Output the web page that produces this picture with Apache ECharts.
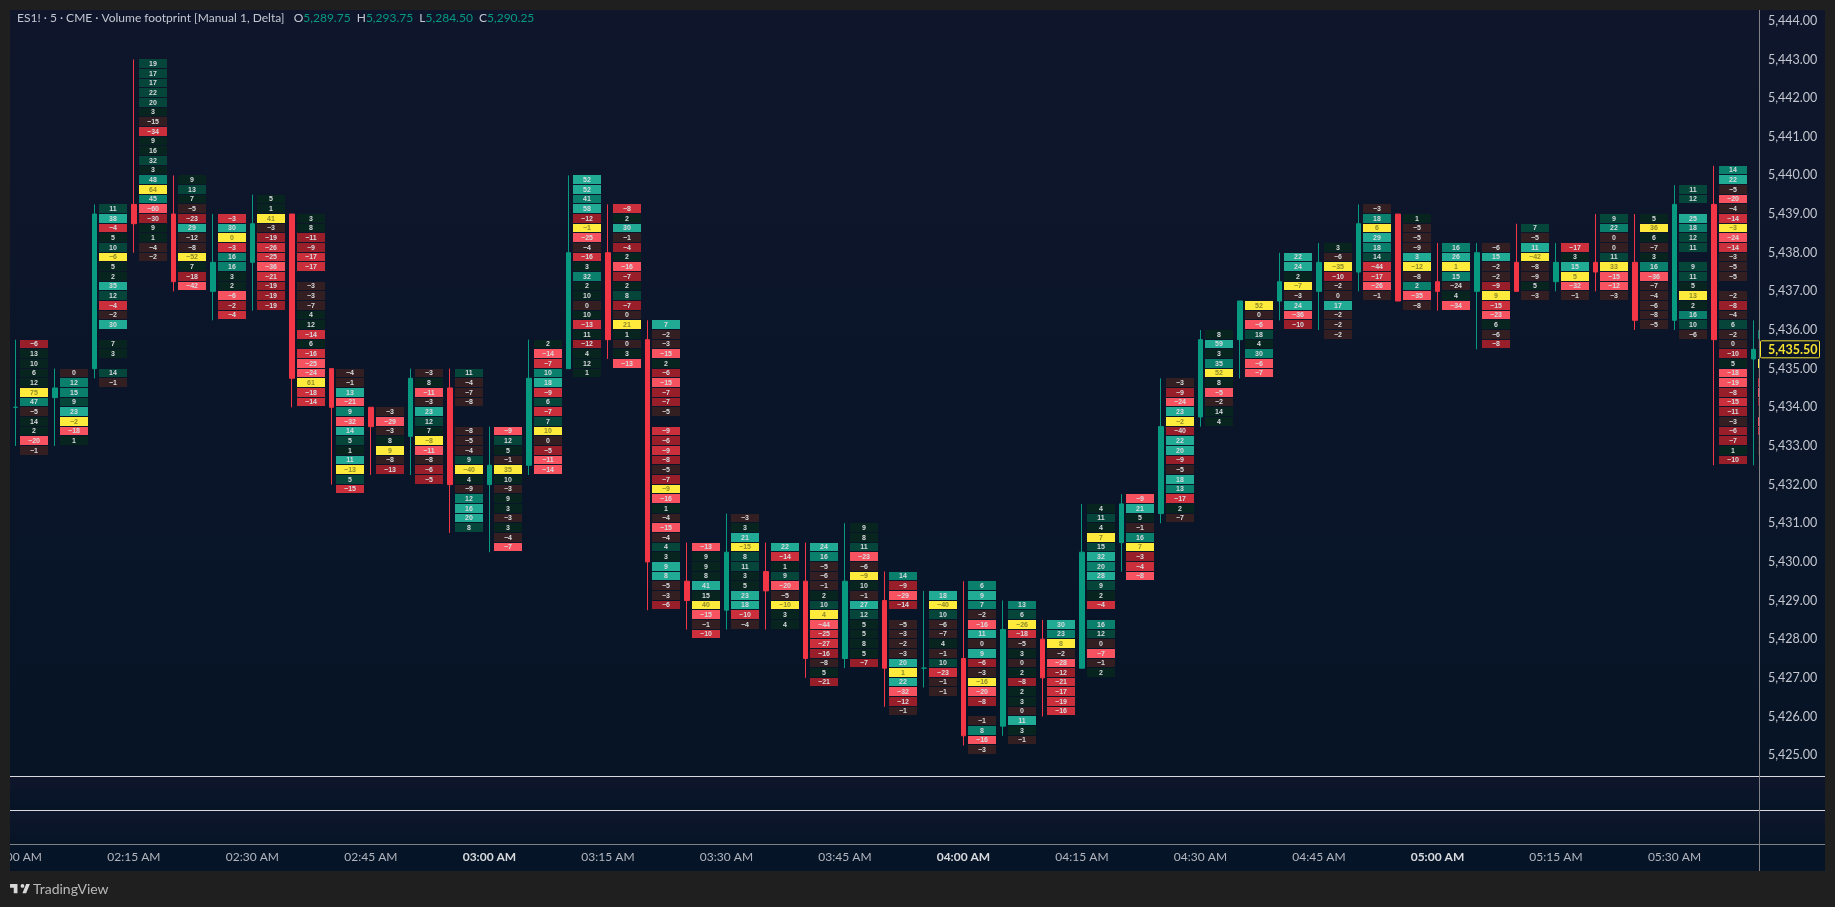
<!DOCTYPE html>
<html>
<head>
<meta charset="utf-8">
<title>ES1! footprint</title>
<script src="https://cdn.jsdelivr.net/npm/echarts@6/dist/echarts.min.js"></script>
<style>
html,body{margin:0;padding:0;background:#1f1f1f;}
#chart{width:1835px;height:907px;}
</style>
</head>
<body>
<div id="chart"></div>
<script>
// each candle: open, close, low, high
var candles = [
[5434,5434,5433,5435.75],[5434.25,5434.5,5433,5435],[5435,5439,5434.75,5439.25],[5439.25,5438.75,5438,5443],
[5439,5437.25,5437,5440],[5437,5437.75,5436.25,5439],[5437.75,5438.75,5436.5,5439.5],[5439,5434.75,5434,5439],
[5435,5434,5432,5435],[5434,5433.5,5432.25,5434],[5433.25,5434.75,5432.25,5435],[5434.5,5432,5430.75,5435],
[5432,5432.5,5430.25,5433.5],[5432.5,5434.75,5432.25,5435.75],[5435,5438,5435,5440],[5438,5435.75,5435.25,5439.25],
[5435.75,5430,5428.75,5436.25],[5429.5,5429,5428.25,5430.5],[5428.75,5430.25,5428.25,5431.25],[5429.75,5429.25,5428.25,5430.5],
[5429.5,5427.5,5427,5430.5],[5427.5,5429.5,5427.25,5431],[5429,5427.25,5426.25,5429.75],[5427.25,5427.25,5426.75,5429.25],
[5427.5,5425.5,5425.25,5429.5],[5425.75,5428.25,5425.5,5429],[5428,5427,5426,5428.5],[5427.25,5430.25,5427.25,5431.5],
[5430.5,5431.5,5429.75,5431.75],[5431.25,5433.5,5431,5434.75],[5433.75,5435.75,5433.5,5436],[5435.75,5436.75,5434.75,5436.75],
[5436.75,5437.25,5436.25,5438],[5437,5437.75,5436,5438.25],[5437.5,5438.75,5437,5439.25],[5439,5436.75,5436.75,5439],
[5437.25,5437,5436.5,5438.25],[5437,5438,5435.5,5438.25],[5437.75,5437,5437,5438.75],[5437.25,5437.75,5437,5438.25],
[5437.75,5437.5,5437,5439],[5437.75,5436.25,5436,5439],[5436.25,5439.25,5436,5439.75],[5439.25,5435.75,5432.5,5440.25],
[5435.25,5435.5,5432.5,5436.25]
];

// price at the top of the first footprint row of each bar
var rowTops = [5435.75,5435,5439.25,5443,5440,5439,5439.5,5439,5435,5434,5435,5435,5433.5,5435.75,5440,5439.25,
5436.25,5430.5,5431.25,5430.5,5430.5,5431,5429.75,5429.25,5429.5,5429,5428.5,5431.5,5431.75,5434.75,5436,5436.75,
5438,5438.25,5439.25,5439,5438.25,5438.25,5438.75,5438.25,5439,5439,5439.75,5440.25,5436.25];

// footprint deltas per bar, top row first, null = no row
var deltas = [
[-6,13,10,6,12,75,47,-5,14,2,-20,-1],
[0,12,15,9,23,-2,-18,1],
[11,38,-4,5,10,-6,5,2,35,12,-4,-2,30,null,7,3,null,14,-1],
[19,17,17,22,20,3,-15,-34,9,16,32,3,48,64,45,-60,-30,9,1,-4,-2],
[9,13,7,-5,-23,29,-12,-8,-52,7,-18,-42],
[-3,30,0,-3,16,16,3,2,-6,-2,-4],
[5,1,41,-3,-19,-26,-25,-36,-21,-19,-19,-19],
[3,8,-11,-9,-17,-17,null,-3,-3,-7,4,12,-14,6,-16,-25,-24,61,-18,-14],
[-4,-1,13,-21,9,-32,14,5,1,11,-13,5,-15],
[-3,-29,-3,8,9,-8,-13],
[-3,8,-11,-3,23,12,7,-8,-11,-8,-6,-5],
[11,-4,-7,-8,null,null,-8,-5,-4,9,-40,4,-9,12,16,20,8],
[-9,12,5,-1,35,10,-3,9,3,-3,3,-4,-7],
[2,-14,-7,10,18,-9,6,-7,7,10,0,-5,-11,-14],
[52,52,41,58,-12,-1,-25,-4,-16,3,32,2,10,0,10,-13,11,-12,4,12,1],
[-8,2,30,-1,-4,2,-16,-7,2,8,-7,0,21,1,0,3,-13],
[7,-2,-3,-15,2,-6,-15,-7,-7,-5,null,-9,-6,-9,-8,-5,-7,-9,-16,1,-4,-15,-4,4,3,9,8,-5,-3,-6],
[-13,9,9,8,41,15,40,-15,-1,-10],
[-3,3,21,-15,8,11,3,5,23,18,-10,-4],
[22,-14,1,9,-20,-5,-10,3,4],
[24,16,-5,-6,-1,2,10,4,-44,-25,-27,-16,-8,5,-21],
[9,8,11,-23,-6,-9,10,-1,27,12,5,5,8,5,-7],
[14,-9,-29,-14,null,-5,-3,-2,-3,20,1,22,-32,-12,-1],
[18,-40,10,-6,-7,4,-1,10,-23,-1,-1],
[6,9,7,-2,-16,11,0,9,-6,-3,-16,-20,-8,null,-1,8,-16,-3],
[13,6,-26,-18,-5,3,0,2,-8,2,3,0,11,3,-1],
[30,23,8,-2,-28,-12,-21,-17,-19,-16],
[4,11,4,7,15,32,20,28,9,2,-4,null,16,12,0,-7,-1,2],
[-9,21,5,-1,16,7,-3,-4,-8],
[-3,-9,-24,23,-2,-40,22,20,-9,-5,18,13,-17,2,-7],
[8,59,3,35,52,8,-5,-2,14,4],
[52,0,-6,18,4,30,-6,-7],
[22,24,2,-7,-3,24,-36,-10],
[3,-6,-35,-10,-2,0,17,-2,-2,-2],
[-3,18,6,29,18,14,-44,-17,-26,-1],
[1,-5,-5,-9,3,-12,-8,2,-35,-8],
[16,26,1,15,-24,4,-34],
[-6,15,-2,-2,-9,9,-15,-23,6,-6,-8],
[7,-5,11,-42,-8,-9,5,-3],
[-17,3,15,5,-32,-1],
[9,22,0,0,11,33,-15,-12,-3],
[5,36,6,-7,3,16,-36,-7,-4,-6,-8,-5],
[11,12,null,25,18,12,11,null,9,11,5,13,2,16,10,-6],
[14,22,-5,-20,-4,-14,-3,-24,-14,-3,-5,-5,null,-2,-8,-4,6,-2,0,-10,5,-18,-19,-8,-15,-11,-3,-6,-7,1,-10],
[3,12,-2,4,9,-1,-8,-12,-7,-2,-11,-9,-1,-2]
];

// cell shade per row: a-d green dark to bright, e-h red dark to bright, y = point of control
var shades = ["faaaayceaahe","eccbdyha","bdgabyaadbged.aa.be","bbbbbaegaabacychfaaee","abaefdeeyafh","gdygccaahfg",
"aayefgghgfff","aaffgg.eeeaagaghhygg","eedhchdbadybg","eheayef","eahedbayheff","beee..eeebyaecddb","hbaeyaeaaeaeh",
"ahgcdgbgbyefhh","ddcdfyhegacaaeagafaaa","gadefahfabfeyaeah","deehafhffe.gfgfefyhaehebaddeef","haaadayheg",
"eadybbaaddge","dgabheyaa","dceeeabyhggfeaf","aabheyaedbaaaaf","cfhf.eeeedydhfe","dybeeaebgee","cdcehdedfeyhf.eche",
"cbygeaeafaaedae","dcyehfgggg","abaybdcdbag.cbehea","hdaecyfgh","efhdyfddfedcgae","adacyaheaa","yehbachh","ddayedhf",
"aeyfeedeee","ecydcbgghe","aeeedyeche","cdyceah","edeefyghaef","bedyeeae","gadyhe","bceebyhhe","ayaeacheeeee",
"bb.dcbb.bbayacbe","cdehegyhgeee.efebeefahhfgfeffaf","aceayeghfehgee"];

var shadeColors = {a:'#07241f',b:'#06453a',c:'#0a7f6b',d:'#22ab94',e:'#331f21',f:'#981e2a',g:'#cc2f3c',h:'#f7525f',y:'#ffeb3b'};

var timeTicks = [0,3,6,9,12,15,18,21,24,27,30,33,36,39,42];
var timeLabels = ['02:00 AM','02:15 AM','02:30 AM','02:45 AM','03:00 AM','03:15 AM','03:30 AM','03:45 AM','04:00 AM','04:15 AM','04:30 AM','04:45 AM','05:00 AM','05:15 AM','05:30 AM'];
var boldTimes = ['03:00 AM','04:00 AM','05:00 AM'];
var priceTicks = [5425,5426,5427,5428,5429,5430,5431,5432,5433,5434,5435,5436,5437,5438,5439,5440,5441,5442,5443,5444];
var lastPrice = 5435.5;
var rowStep = 0.25;

var cells = [];
deltas.forEach(function(rows, bar){
    rows.forEach(function(d, r){
        if(d === null) return;
        cells.push([bar, rowTops[bar] - r * rowStep, d, shades[bar].charAt(r)]);
    });
});

var FONT = 'Lato, sans-serif';

function fmtPrice(v){
    return v.toFixed(2).replace(/\B(?=(\d{3})+\.)/, ',');
}

function renderCell(params, api){
    var bar = api.value(0), top = api.value(1), d = api.value(2), shade = cells[params.dataIndex][3];
    var a = api.coord([bar, top]), b = api.coord([bar, top - rowStep]);
    var y0 = Math.round(a[1]), y1 = Math.round(b[1]) - 1;
    var x0 = Math.round(a[0] + 5);
    return {
        type: 'group',
        children: [
            {type:'rect', shape:{x:x0, y:y0, width:28, height:y1 - y0}, style:{fill:shadeColors[shade]}},
            {type:'text', style:{
                x: x0 + 14, y: (y0 + y1) / 2 + 0.5,
                text: (d < 0 ? '\u2212' + (-d) : '' + d),
                fill: shade === 'y' ? '#8d8a2c' : '#d8dade',
                font: 'bold 7px "Liberation Sans", sans-serif',
                textAlign: 'center', textVerticalAlign: 'middle'
            }}
        ]
    };
}

function renderLastPrice(params, api){
    var c = api.coord([api.value(0), api.value(1)]);
    return {
        type: 'group',
        children: [
            {type:'rect', shape:{x:c[0] + 1.5, y:c[1] - 8.5, width:59, height:17, r:1},
             style:{fill:'#0b1528', stroke:'#f7e22f', lineWidth:1}},
            {type:'text', style:{x:c[0] + 9, y:c[1] + 0.5, text:fmtPrice(api.value(1)), fill:'#f7e22f',
             font:'bold 12.5px ' + FONT, textAlign:'left', textVerticalAlign:'middle'}}
        ]
    };
}

function paneFill(){
    return new echarts.graphic.LinearGradient(0, 0, 0, 1, [
        {offset:0, color:'#0f162c'}, {offset:1, color:'#061426'}
    ]);
}

function sepLine(y, color){
    return {type:'rect', z:5, silent:true, shape:{x:10, y:y, width:1815, height:1}, style:{fill:color}};
}

var myChart = echarts.init(document.getElementById('chart'), null, {renderer:'canvas'});

var option = {
    animation: false,
    backgroundColor: '#1f1f1f',
    title: {
        left: 17, top: 12, padding: 0,
        text: '{t|ES1! \u00b7 5 \u00b7 CME \u00b7 Volume footprint [Manual 1, Delta]}   {t|O}{v|5,289.75}  {t|H}{v|5,293.75}  {t|L}{v|5,284.50}  {t|C}{v|5,290.25}',
        textStyle: {
            fontSize: 12, fontFamily: FONT, fontWeight: 'normal', color: '#c4c7cf',
            rich: {
                t: {color:'#c4c7cf', fontSize:12, fontFamily:FONT},
                v: {color:'#089981', fontSize:12, fontFamily:FONT}
            }
        }
    },
    grid: {left:10, top:10, width:1749, height:766, show:false, outerBoundsMode:'none'},
    xAxis: {
        type: 'value',
        min: -0.137, max: 44.14,
        position: 'bottom',
        offset: 68,
        splitLine: {show:false},
        axisLine: {show:false},
        axisTick: {show:false},
        axisLabel: {
            customValues: timeTicks,
            margin: 7,
            color: '#b2b5be',
            fontSize: 12,
            fontFamily: FONT,
            formatter: function(v){
                var s = timeLabels[timeTicks.indexOf(v)];
                return boldTimes.indexOf(s) >= 0 ? '{b|' + s + '}' : s;
            },
            rich: {b:{color:'#d8dade', fontSize:12, fontWeight:'bold', fontFamily:FONT}}
        }
    },
    yAxis: {
        type: 'value',
        position: 'right',
        min: 5424.46, max: 5444.28,
        splitLine: {show:false},
        axisLine: {show:false},
        axisTick: {show:false},
        axisLabel: {
            customValues: priceTicks,
            margin: 9,
            color: '#c4c7cf',
            fontSize: 12.5,
            fontFamily: FONT,
            formatter: fmtPrice
        }
    },
    graphic: {
        elements: [
            {type:'rect', z:-5, silent:true, shape:{x:10, y:10, width:1815, height:766}, style:{fill:paneFill()}},
            {type:'rect', z:-5, silent:true, shape:{x:10, y:776, width:1815, height:34}, style:{fill:paneFill()}},
            {type:'rect', z:-5, silent:true, shape:{x:10, y:810, width:1815, height:34}, style:{fill:paneFill()}},
            {type:'rect', z:-5, silent:true, shape:{x:10, y:844, width:1815, height:27}, style:{fill:'#051426'}},
            sepLine(776, '#d8dae0'),
            sepLine(810, '#d8dae0'),
            sepLine(844, '#7f8184'),
            {type:'rect', z:5, silent:true, shape:{x:1759, y:10, width:1, height:861}, style:{fill:'#7f8184'}},
            // window chrome over the clipped first time label
            {type:'rect', z:50, silent:true, shape:{x:0, y:0, width:10, height:907}, style:{fill:'#1f1f1f'}},
            // TradingView mark
            {type:'polygon', z:50, silent:true, x:8.8, y:880.3, scaleX:0.62, scaleY:0.62,
             shape:{points:[[2,6],[14,6],[14,21],[8,21],[8,12],[2,12]]}, style:{fill:'#d8d8d8'}},
            {type:'polygon', z:50, silent:true, x:8.8, y:880.3, scaleX:0.62, scaleY:0.62,
             shape:{points:[[28,6],[34,6],[28,21],[22,21]]}, style:{fill:'#d8d8d8'}},
            {type:'circle', z:50, silent:true, x:8.8, y:880.3, scaleX:0.62, scaleY:0.62,
             shape:{cx:22, cy:9, r:3}, style:{fill:'#d8d8d8'}},
            {type:'text', z:50, silent:true, x:33, y:889,
             style:{text:'TradingView', fill:'#b9b9b9', font:'14px ' + FONT, textVerticalAlign:'middle'}}
        ]
    },
    series: [
        {
            name: 'footprint',
            type: 'custom',
            clip: true,
            coordinateSystem: 'cartesian2d',
            encode: {x:0, y:1},
            renderItem: renderCell,
            data: cells
        },
        {
            name: 'candles',
            type: 'candlestick',
            barWidth: 5,
            clip: true,
            encode: {x:0, y:[1,2,3,4]},
            itemStyle: {color:'#089981', color0:'#f23645', borderColor:'#089981', borderColor0:'#f23645', borderWidth:1},
            data: candles.map(function(c, i){ return [i, c[0], c[1], c[2], c[3]]; })
        },
        {
            name: 'last',
            type: 'custom',
            clip: false,
            z: 10,
            encode: {x:0, y:1},
            renderItem: renderLastPrice,
            data: [[44.14, lastPrice]]
        }
    ]
};

myChart.setOption(option);
</script>
</body>
</html>
